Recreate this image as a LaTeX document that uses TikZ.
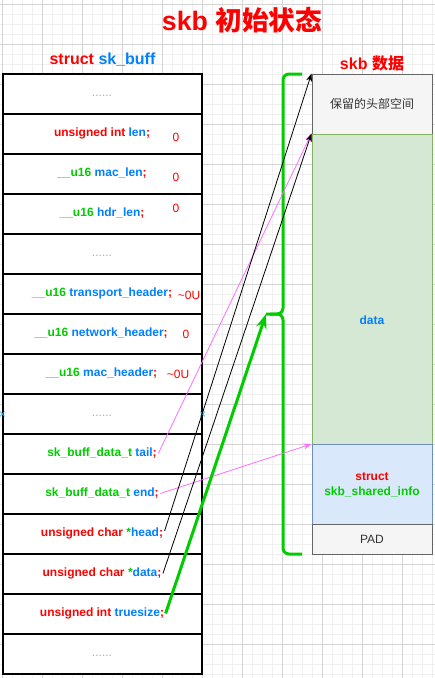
\documentclass[tikz,border=0pt]{standalone}
\usepackage{fontspec}
\setmainfont{Liberation Sans}
\newfontfamily\cjk{Noto Sans CJK SC}
\usetikzlibrary{arrows.meta,shapes.misc}
\definecolor{cred}{RGB}{255,0,0}
\definecolor{cgreen}{RGB}{0,204,0}
\definecolor{cblue}{RGB}{0,127,255}
\definecolor{cpink}{RGB}{255,110,255}
\definecolor{gminor}{RGB}{240,240,240}
\definecolor{gmajor}{RGB}{212,212,212}
\definecolor{hdrfill}{RGB}{245,245,245}
\definecolor{hdrdraw}{RGB}{102,102,102}
\definecolor{datafill}{RGB}{213,232,212}
\definecolor{datadraw}{RGB}{130,179,102}
\definecolor{infofill}{RGB}{218,232,252}
\definecolor{infodraw}{RGB}{108,142,191}
\definecolor{darktext}{RGB}{51,51,51}
\definecolor{dotgray}{RGB}{170,170,170}
\definecolor{xblue}{RGB}{41,182,242}
\newcommand\cR[1]{\textcolor{cred}{#1}}
\newcommand\cG[1]{\textcolor{cgreen}{#1}}
\newcommand\cB[1]{\textcolor{cblue}{#1}}
\tikzset{
  rowbox/.style={draw=black, line width=0.9pt, fill=white, minimum width=149.25pt, minimum height=30pt, inner sep=0pt},
  rowtext/.style={font=\fontsize{9}{11}\selectfont\bfseries, inner sep=1pt},
  valtext/.style={font=\fontsize{9}{11}\selectfont, text=cred, inner sep=0pt},
  dotstext/.style={font=\fontsize{9}{11}\selectfont, text=dotgray, inner sep=0pt},
  blk/.style={line width=0.75pt, minimum width=90pt, inner sep=0pt, align=center},
  minorline/.style={draw=gminor, line width=0.6pt},
  majorline/.style={draw=gmajor, line width=0.6pt},
  thinarrow/.style={draw=black, line width=0.6pt, -{Stealth[length=6pt,width=4.5pt]}},
  pinkarrow/.style={draw=cpink, line width=0.6pt, -{Stealth[length=6pt,width=4.5pt]}},
  greenarrow/.style={draw=cgreen, line width=2.25pt, -{Stealth[length=11pt,width=8pt]}},
  bracestyle/.style={draw=cgreen, line width=2.25pt, rounded corners=4.5pt},
  xmark/.style={cross out, draw=xblue, line width=0.5pt, minimum size=3pt, inner sep=0pt}
}
\begin{document}
\begin{tikzpicture}[x=0.75pt,y=-0.75pt]
\useasboundingbox (0,0) rectangle (435,678);
% grid
\foreach \gx in {2.7,12.7,...,435} \draw[minorline] (\gx,0) -- (\gx,678);
\foreach \gy in {4.3,14.3,...,678} \draw[minorline] (0,\gy) -- (435,\gy);
\foreach \gx in {2.7,42.7,...,435} \draw[majorline] (\gx,0) -- (\gx,678);
\foreach \gy in {4.3,44.3,...,678} \draw[majorline] (0,\gy) -- (435,\gy);

% titles
\node[font=\fontsize{20}{24}\selectfont\bfseries, text=cred] (title) at (242,20) {skb {\cjk 初始状态}};
\node[font=\fontsize{12}{14}\selectfont\bfseries] (sktitle) at (102.5,60) {\cR{struct} \cB{sk\_buff}};
\node[font=\fontsize{12}{14}\selectfont\bfseries, text=cred] (dtitle) at (372,63) {skb {\cjk 数据}};

% table rows
\foreach \i in {1,...,15} \node[rowbox] (r\i) at (102.5,{94+40*(\i-1)}) {};

\node[dotstext] (d1) at (102,96) {......};
\node[rowtext] (t2) at (102,133.5) {\cR{unsigned int} \cB{len}\cR{;}};
\node[rowtext] (t3) at (102,173.5) {\cG{\_\_u16} \cB{mac\_len}\cR{;}};
\node[rowtext] (t4) at (102,213.5) {\cG{\_\_u16} \cB{hdr\_len}\cR{;}};
\node[dotstext] (d5) at (102,256) {......};
\node[rowtext] (t6) at (102,293.5) {\cG{\_\_u16} \cB{transport\_header}\cR{;}};
\node[rowtext] (t7) at (101,333.5) {\cG{\_\_u16} \cB{network\_header}\cR{;}};
\node[rowtext] (t8) at (101.5,373.5) {\cG{\_\_u16} \cB{mac\_header}\cR{;}};
\node[dotstext] (d9) at (102,416) {......};
\node[rowtext] (t10) at (102,453.5) {\cG{sk\_buff\_data\_t} \cB{tail}\cR{;}};
\node[rowtext] (t11) at (102,493.5) {\cG{sk\_buff\_data\_t} \cB{end}\cR{;}};
\node[rowtext] (t12) at (102,533.5) {\cR{unsigned char} \cG{*}\cB{head}\cR{;}};
\node[rowtext] (t13) at (102,573.5) {\cR{unsigned char} \cG{*}\cB{data}\cR{;}};
\node[rowtext] (t14) at (102,613.5) {\cR{unsigned int} \cB{truesize}\cR{;}};
\node[dotstext] (d15) at (102,656) {......};

% values
\node[valtext] (v2) at (176,137.5) {0};
\node[valtext] (v3) at (176,177.5) {0};
\node[valtext] (v4) at (176,208.5) {0};
\node[valtext] (v6) at (189,295.5) {\textasciitilde0U};
\node[valtext] (v7) at (186,334) {0};
\node[valtext] (v8) at (178,374) {\textasciitilde0U};

% connection markers
\node[xmark] (xl) at (r9.west) {};
\node[xmark] (xr) at (r9.east) {};

% right blocks
\node[blk, fill=hdrfill, draw=hdrdraw, minimum height=45pt, font=\fontsize{9}{11}\selectfont\cjk, text=darktext] (hdr) at (372,104) {保留的头部空间};
\node[blk, fill=datafill, draw=datadraw, minimum height=232.5pt] (data) at (372,289) {};
\node[font=\fontsize{9}{11}\selectfont\bfseries, text=cblue] (datatext) at (372,320) {data};
\node[blk, fill=infofill, draw=infodraw, minimum height=60pt, font=\fontsize{9}{11.25}\selectfont\bfseries] (info) at (372,484.5) {\cR{struct}\\\cG{skb\_shared\_info}};
\node[blk, fill=hdrfill, draw=hdrdraw, minimum height=22.5pt, font=\fontsize{9}{11}\selectfont, text=darktext] (pad) at (372,539) {PAD};

% brace
\coordinate (bt) at (302,74);
\coordinate (bb) at (302,554);
\coordinate (tip) at (266,314);
\draw[bracestyle] (bt) -- (283,74) -- (283,314) -- (tip);
\draw[bracestyle] (270,314) -- (283,314) -- (283,554) -- (bb);

% arrows
\draw[pinkarrow] (t10.east) -- (data.north west);
\draw[pinkarrow] (t11.east) -- (info.north west);
\draw[thinarrow] ([yshift=2pt]t12.east) -- (hdr.north west);
\draw[thinarrow] (t13.east) -- (data.north west);
\draw[greenarrow] (t14.east) -- (tip);
\end{tikzpicture}
\end{document}
